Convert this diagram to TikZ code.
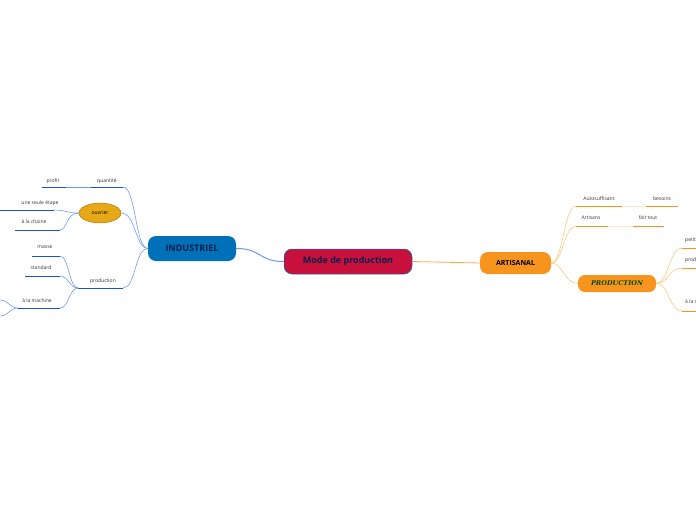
\documentclass[tikz,border=0pt]{standalone}
\usepackage{fontspec}
\setmainfont{Open Sans}
\newfontfamily\scriptf{DejaVu Serif}
\usetikzlibrary{shapes.geometric}
\definecolor{crim}{HTML}{C8103C}
\definecolor{indb}{HTML}{0070B8}
\definecolor{navy}{HTML}{0A1E4A}
\definecolor{orng}{HTML}{F7941D}
\definecolor{gold}{HTML}{E6A817}
\definecolor{lblue}{HTML}{6E9BF0}
\definecolor{ulblue}{HTML}{1A50E0}
\definecolor{lor}{HTML}{FBC97A}
\begin{document}
\begin{tikzpicture}[x=1pt,y=-1pt,
  main/.style={rounded corners=8pt,minimum height=25pt,inner sep=0pt,font=\fontsize{9}{10}\selectfont\bfseries},
  leaf/.style={font=\fontsize{5}{6}\selectfont,text=black!80,inner sep=0pt},
  bl/.style={draw=lblue,line width=0.6pt},
  ol/.style={draw=lor,line width=0.6pt},
  ub/.style={draw=ulblue,line width=1pt},
  uo/.style={draw=orng,line width=1pt}]
\useasboundingbox (0,0) rectangle (696,520);
\clip (0,0) rectangle (696,520);
\node[main,fill=crim,draw=indb,line width=0.5pt,text=navy,minimum width=128pt] (mode) at (348,261.5) {Mode de production};
\node[main,fill=indb,text=navy,minimum width=88pt] (ind) at (192,248.5) {INDUSTRIEL};
\node[main,fill=orng,text=black,minimum width=71pt,minimum height=22pt,font=\fontsize{7}{8}\selectfont\bfseries] (art) at (515.5,263) {ARTISANAL};
\node[main,fill=orng,text=green!30!black,minimum width=78pt,minimum height=17pt,rounded corners=7pt,font=\scriptf\fontsize{6.5}{7}\selectfont\bfseries\itshape] (prod) at (617,283.5) {PRODUCTION};
\node[ellipse,fill=gold,draw=gold!70!black,line width=0.4pt,minimum width=42pt,minimum height=20pt,inner sep=0pt,font=\fontsize{5}{6}\selectfont] (ouv) at (100,213) {ouvrier};
% leaves: text nodes
\node[leaf] (tq) at (107,181) {quantité};
\node[leaf] (tp) at (53,181) {profit};
\node[leaf] (tu) at (40,203) {une seule étape};
\node[leaf] (tc) at (34,222) {à la chaine};
\node[leaf] (tm) at (45,247) {masse};
\node[leaf] (ts) at (41,268) {standard};
\node[leaf] (tpr) at (103,281) {production};
\node[leaf] (tma) at (37,301) {à la machine};
\node[leaf] (ta) at (599,199) {Autosuffisant};
\node[leaf] (tb) at (662,199) {besoins};
\node[leaf] (tar) at (591,218) {Artisans};
\node[leaf] (tf) at (648,218) {fait tout};
\node[leaf,anchor=west] (tpe) at (685,240) {petite};
\node[leaf,anchor=west] (tpo) at (685,260) {production};
\node[leaf,anchor=west] (tal) at (685,302) {à la main};
% underline coordinates
\coordinate (q1) at (91,187); \coordinate (q2) at (123,187);
\coordinate (p1) at (42,187); \coordinate (p2) at (66,187);
\coordinate (u1) at (0,210); \coordinate (u2) at (54,210);
\coordinate (c1) at (15,230); \coordinate (c2) at (60,230);
\coordinate (m1) at (32,256); \coordinate (m2) at (60,256);
\coordinate (s1) at (25,276); \coordinate (s2) at (60,276);
\coordinate (r1) at (78,288); \coordinate (r2) at (123,288);
\coordinate (a1) at (18,308); \coordinate (a2) at (60,308);
\coordinate (e1) at (0,300); \coordinate (e2) at (0,316);
\coordinate (A1) at (576,206); \coordinate (A2) at (622,206);
\coordinate (B1) at (646,206); \coordinate (B2) at (678,206);
\coordinate (R1) at (576,226); \coordinate (R2) at (608,226);
\coordinate (F1) at (633,226); \coordinate (F2) at (664,226);
\coordinate (P1) at (682,248); \coordinate (P2) at (696,248);
\coordinate (O1) at (682,268); \coordinate (O2) at (696,268);
\coordinate (L1) at (682,311); \coordinate (L2) at (696,311);
% connectors
\draw[bl,line width=1pt] (mode.west) .. controls (260,262) and (260,248) .. (ind.east);
\draw[ol,draw=orng!80,line width=0.8pt] (mode.east) .. controls (446,262) and (446,263) .. (art.west);
\foreach \t in {q2,ouv.east,r2}
  \draw[bl] (ind.west) .. controls (135,248) and (136,0|-\t) .. (\t);
\foreach \t in {u2,c2}
  \draw[bl] (ouv.west) .. controls (66,213) and (67,0|-\t) .. (\t);
\foreach \t in {m2,s2,a2}
  \draw[bl] (r1) .. controls (69,288) and (69,0|-\t) .. (\t);
\foreach \t in {e1,e2}
  \draw[bl] (a1) .. controls (9,308) and (9,0|-\t) .. (\t);
\draw[bl] (p2) -- (q1);
\foreach \t in {A1,R1,prod.west}
  \draw[ol] (art.east) .. controls (563,263) and (564,0|-\t) .. (\t);
\foreach \t in {P1,O1,L1}
  \draw[ol] (prod.east) .. controls (669,283) and (669,0|-\t) .. (\t);
\draw[ol,draw=orng!25] (A2) -- (B1);
\draw[ol,draw=orng!25] (R2) -- (F1);
\foreach \a/\b in {q1/q2,p1/p2,u1/u2,c1/c2,m1/m2,s1/s2,r1/r2,a1/a2}
  \draw[ub] (\a) -- (\b);
\foreach \a/\b in {A1/A2,B1/B2,R1/R2,F1/F2,P1/P2,O1/O2,L1/L2}
  \draw[uo] (\a) -- (\b);
\end{tikzpicture}
\end{document}
